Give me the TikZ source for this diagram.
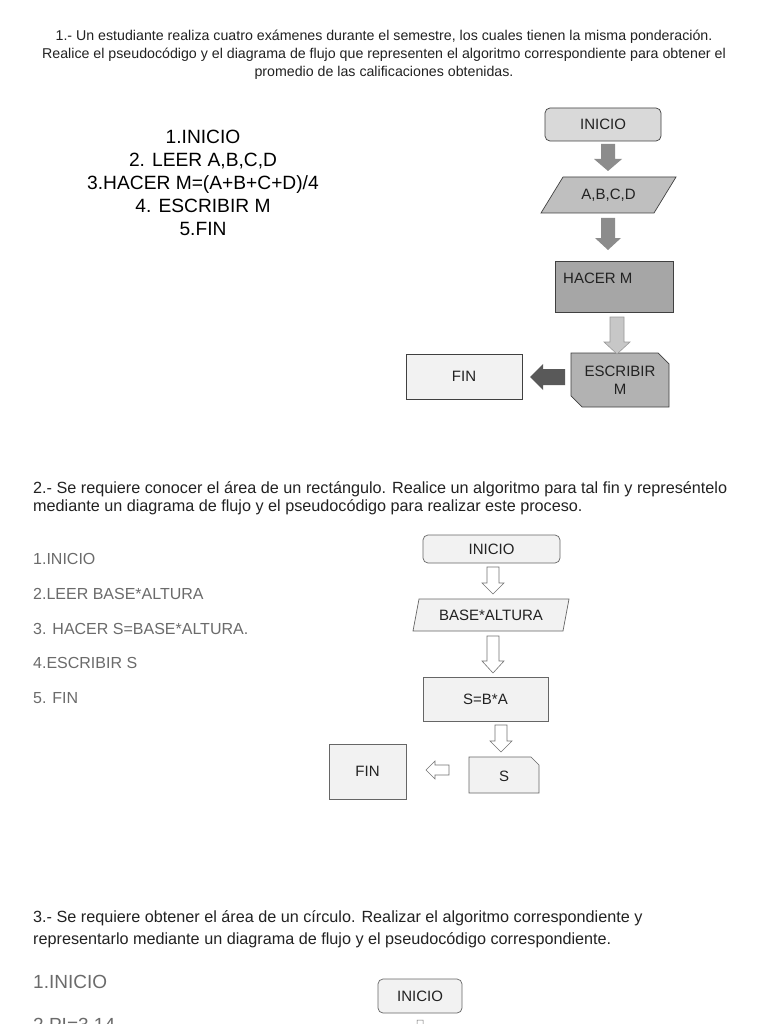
\documentclass[tikz,border=0pt]{standalone}
\usepackage{fontspec}
\setmainfont{Liberation Sans}
\usetikzlibrary{shapes.geometric}
\definecolor{tx}{HTML}{222222}
\definecolor{gt}{HTML}{6b6b6b}
% vertical block arrow: x, ytop, ybottom, shaft half, head half, head length, style
\newcommand\blkdown[7]{\draw[#7] (#1-#4,#2) -- (#1+#4,#2) -- (#1+#4,#3-#6) -- (#1+#5,#3-#6) -- (#1,#3) -- (#1-#5,#3-#6) -- (#1-#4,#3-#6) -- cycle;}
% leftward block arrow: y, xright, xleft, shaft half, head half, head length, style
\newcommand\blkleft[7]{\draw[#7] (#2,#1-#4) -- (#2,#1+#4) -- (#3+#6,#1+#4) -- (#3+#6,#1+#5) -- (#3,#1) -- (#3+#6,#1-#5) -- (#3+#6,#1-#4) -- cycle;}
\begin{document}
\begin{tikzpicture}[x=1pt,y=-1pt,
  box/.style={draw=black!75,line width=0.7pt,text=tx,inner sep=0pt},
  bf/.style={font=\fontsize{15}{17}\selectfont},
  body/.style={text=tx,font=\fontsize{16.2}{18}\selectfont,anchor=west,inner sep=0pt},
  ps/.style={text=gt,font=\fontsize{16}{18}\selectfont,anchor=west,inner sep=0pt}]
\useasboundingbox (0,0) rectangle (768,1024);
\fill[white] (0,0) rectangle (768,1024);
% Section 1
\node[text=tx,font=\fontsize{14.2}{18}\selectfont,align=center] (t1) at (384,55) {1.- Un estudiante realiza cuatro exámenes durante el semestre, los cuales tienen la misma ponderación.\\Realice el pseudocódigo y el diagrama de flujo que representen el algoritmo correspondiente para obtener el\\promedio de las calificaciones obtenidas.};
\node[text=black,font=\fontsize{19.2}{23}\selectfont,align=center] (p1) at (203,183) {1.INICIO\\2. LEER A,B,C,D\\3.HACER M=(A+B+C+D)/4\\4. ESCRIBIR M\\5.FIN};
\node[box,rounded corners=5pt,fill=black!15,minimum width=116pt,minimum height=33pt,bf] (i1) at (603,124.5) {INICIO};
\draw[box,fill=black!25] (563,177) -- (676,177) -- (654,213) -- (541,213) -- cycle;
\node[text=tx,bf] (r1) at (608.5,195) {A,B,C,D};
\node[box,fill=black!35,minimum width=118pt,minimum height=51pt] (h1) at (614,286.5) {};
\node[text=tx,bf,anchor=west,inner sep=0pt] (h1t) at (563,278) {HACER M};
\draw[box,fill=black!30] (571,353) -- (658,353) -- (669,364) -- (669,407) -- (582,407) -- (571,396) -- cycle;
\node[text=tx,font=\fontsize{15}{18}\selectfont,align=center] (e1) at (620,380) {ESCRIBIR\\M};
\node[box,fill=black!5,minimum width=116pt,minimum height=45pt,bf] (f1) at (464,376.5) {FIN};
\blkdown{608}{144}{171}{7}{14}{12}{draw=none,fill=black!45}
\blkdown{608}{218}{250}{7}{13}{12}{draw=none,fill=black!45}
\blkdown{617}{317}{354}{7}{13}{12}{draw=black!40,fill=black!22,line width=0.6pt}
\blkleft{377}{565}{530}{8}{13}{13}{draw=none,fill=black!65}
% Section 2
\node[body] (t2a) at (33,489) {2.- Se requiere conocer el área de un rectángulo. Realice un algoritmo para tal fin y represéntelo};
\node[body] (t2b) at (33,507) {mediante un diagrama de flujo y el pseudocódigo para realizar este proceso.};
\node[ps] (q1) at (33,559) {1.INICIO};
\node[ps] (q2) at (33,594) {2.LEER BASE*ALTURA};
\node[ps] (q3) at (33,629) {3. HACER S=BASE*ALTURA.};
\node[ps] (q4) at (33,663) {4.ESCRIBIR S};
\node[ps] (q5) at (33,698) {5. FIN};
\node[box,draw=black!60,rounded corners=5pt,fill=black!5,minimum width=137pt,minimum height=28pt,bf] (i2) at (491.5,549) {INICIO};
\draw[box,draw=black!60,fill=black!5] (419,599) -- (569,599) -- (563,631) -- (413,631) -- cycle;
\node[text=tx,bf] (r2) at (491,615) {BASE*ALTURA};
\node[box,draw=black!60,fill=black!5,minimum width=125pt,minimum height=44pt,bf] (s2) at (485.5,699) {S=B*A};
\draw[box,draw=black!60,fill=black!5] (469,757) -- (531,757) -- (539,765) -- (539,793) -- (469,793) -- cycle;
\node[text=tx,bf] (w2) at (504,776) {S};
\node[box,draw=black!60,fill=black!5,minimum width=77pt,minimum height=55pt,bf] (f2) at (367.5,771.5) {FIN};
\blkdown{493}{567}{594}{6}{11}{11}{draw=black!55,fill=white,line width=0.6pt}
\blkdown{493}{636}{673}{6}{11}{12}{draw=black!55,fill=white,line width=0.6pt}
\blkdown{501}{725}{752}{6}{11}{11}{draw=black!55,fill=white,line width=0.6pt}
\blkleft{770}{449}{426}{5}{9}{9}{draw=black!55,fill=white,line width=0.6pt}
% Section 3
\node[body] (t3a) at (33,918) {3.- Se requiere obtener el área de un círculo. Realizar el algoritmo correspondiente y};
\node[body] (t3b) at (33,940) {representarlo mediante un diagrama de flujo y el pseudocódigo correspondiente.};
\node[ps,font=\fontsize{19}{20}\selectfont] (u1) at (33,982) {1.INICIO};
\node[ps,font=\fontsize{19}{20}\selectfont] (u2) at (33,1025) {2.PI=3.14};
\node[box,draw=black!60,rounded corners=5pt,fill=black!5,minimum width=84pt,minimum height=34pt,bf] (i3) at (420,996) {INICIO};
\blkdown{420}{1020}{1040}{3}{6}{5}{draw=black!55,fill=white,line width=0.5pt}
\end{tikzpicture}
\end{document}
